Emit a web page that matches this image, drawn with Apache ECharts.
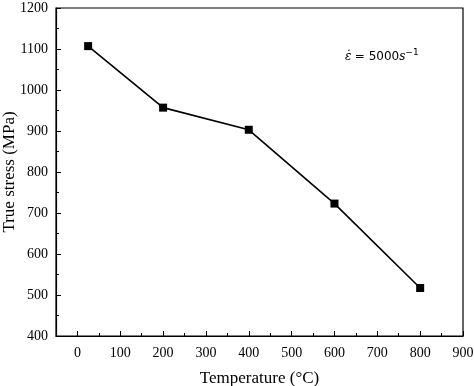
<!DOCTYPE html>
<html><head><meta charset="utf-8">
<script src="https://cdn.jsdelivr.net/npm/echarts@6/dist/echarts.min.js"></script>
<style>html,body{margin:0;padding:0;background:#fff}#c{width:474px;height:386px}</style>
</head><body><div id="c"></div>
<script>
const temperatures = [25, 200, 400, 600, 800];
const trueStress = [1107, 957, 903, 723, 517];
const xTicks = [0, 100, 200, 300, 400, 500, 600, 700, 800, 900];
const xMinorTicks = [50, 150, 250, 350, 450, 550, 650, 750, 850];
const yTicks = [400, 500, 600, 700, 800, 900, 1000, 1100, 1200];
const yMinorTicks = [450, 550, 650, 750, 850, 950, 1050, 1150];

const chart = echarts.init(document.getElementById('c'));
const font = '"Liberation Serif", "Times New Roman", serif';
const base = {type: 'value', splitLine: {show: false}};
chart.setOption({
  animation: false,
  grid: {left: 56, right: 11, top: 8, bottom: 50, containLabel: false, outerBoundsMode: 'none',
    show: true, borderColor: '#000', borderWidth: 1.2},
  xAxis: [{
    ...base, min: -50, max: 900,
    name: 'Temperature (°C)', nameLocation: 'middle', nameGap: 34, nameMoveOverlap: false,
    nameTextStyle: {fontFamily: font, fontSize: 17, color: '#000'},
    axisLine: {show: true, onZero: false, lineStyle: {color: '#000', width: 1.2}},
    axisTick: {show: true, inside: true, length: 5, customValues: xTicks, lineStyle: {color: '#000'}},
    axisLabel: {fontFamily: font, fontSize: 14, color: '#000', margin: 10, customValues: xTicks,
      formatter: v => String(v)}
  }, {
    ...base, min: -50, max: 900, position: 'bottom',
    axisLine: {show: false, onZero: false},
    axisTick: {show: true, inside: true, length: 3, customValues: xMinorTicks, lineStyle: {color: '#000'}},
    axisLabel: {show: false}
  }],
  yAxis: [{
    ...base, min: 400, max: 1200,
    name: 'True stress (MPa)', nameLocation: 'middle', nameGap: 38, nameMoveOverlap: false,
    nameTextStyle: {fontFamily: font, fontSize: 17, color: '#000'},
    axisLine: {show: true, onZero: false, lineStyle: {color: '#000', width: 1.2}},
    axisTick: {show: true, inside: true, length: 5, customValues: yTicks, lineStyle: {color: '#000'}},
    axisLabel: {fontFamily: font, fontSize: 14, color: '#000', margin: 8, customValues: yTicks,
      formatter: v => String(v)}
  }, {
    ...base, min: 400, max: 1200, position: 'left',
    axisLine: {show: false, onZero: false},
    axisTick: {show: true, inside: true, length: 3, customValues: yMinorTicks, lineStyle: {color: '#000'}},
    axisLabel: {show: false}
  }],
  graphic: [{
    type: 'text', left: 345, top: 48,
    style: {
      text: '{e|ε̇} {n|= 5000}{e|s}{sup|−1}',
      rich: {
        e: {fontFamily: '"DejaVu Serif", serif', fontStyle: 'italic', fontSize: 12, fill: '#000'},
        n: {fontFamily: '"DejaVu Sans", sans-serif', fontSize: 12, fill: '#000'},
        sup: {fontFamily: '"DejaVu Sans", sans-serif', fontSize: 9, fill: '#000', verticalAlign: 'top', padding: [0,0,8,0]}
      }
    }
  }],
  series: [{
    type: 'line',
    data: temperatures.map((t, i) => [t, trueStress[i]]),
    symbol: 'rect', symbolSize: 8,
    lineStyle: {color: '#000', width: 1.6},
    itemStyle: {color: '#000'}
  }]
});
</script></body></html>
